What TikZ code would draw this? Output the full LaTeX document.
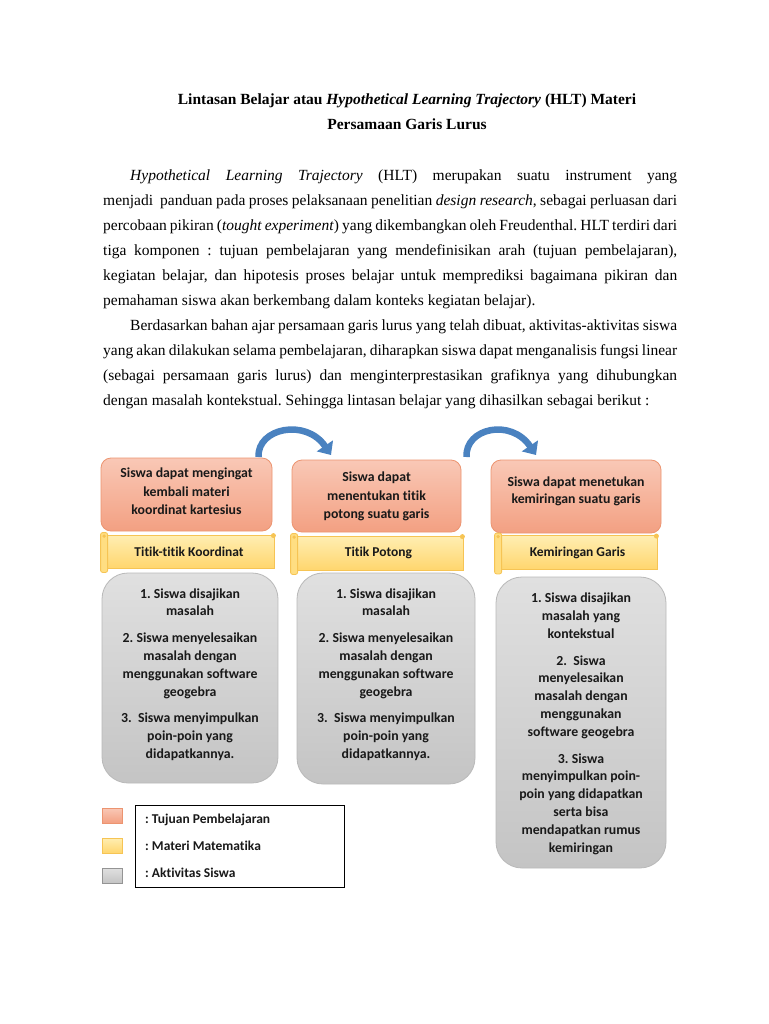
\documentclass[tikz,border=0pt]{standalone}
\usepackage{fontspec}
\setmainfont{Liberation Serif}
\newfontfamily\carl[Ligatures={NoCommon,NoRequired,NoContextual}]{Carlito}
\usetikzlibrary{arrows.meta}
\frenchspacing
\definecolor{otop}{RGB}{249,200,182}
\definecolor{obot}{RGB}{243,160,130}
\definecolor{oline}{RGB}{236,148,112}
\definecolor{ytop}{RGB}{255,238,178}
\definecolor{ybot}{RGB}{255,214,110}
\definecolor{yline}{RGB}{246,196,84}
\definecolor{yroll}{RGB}{255,222,130}
\definecolor{gtop}{RGB}{224,224,224}
\definecolor{gbot}{RGB}{196,196,196}
\definecolor{gline}{RGB}{185,185,185}
\definecolor{ablue}{RGB}{74,130,192}
\definecolor{boxtext}{RGB}{25,25,25}
\begin{document}
\begin{tikzpicture}[x=1pt,y=-1pt,
  obox/.style={draw=oline, line width=0.8pt, rounded corners=10pt, top color=otop, bottom color=obot, inner sep=0},
  ybox/.style={draw=yline, line width=0.8pt, top color=ytop, bottom color=ybot, inner sep=0, font=\carl\bfseries\fontsize{13.5}{16}\selectfont, text=boxtext},
  yroll/.style={draw=yline, line width=0.8pt, fill=yroll, rounded corners=2pt},
  gbox/.style={draw=gline, line width=0.8pt, rounded corners=26pt, top color=gtop, bottom color=gbot, inner sep=0},
  otext/.style={anchor=north, inner sep=0, align=center, text=boxtext, font=\carl\bfseries\fontsize{13.8}{18.5}\selectfont},
  gtext/.style={anchor=north, inner sep=0, align=center, text=boxtext, font=\carl\bfseries\fontsize{13.8}{17.8}\selectfont},
  ltext/.style={anchor=base west, inner sep=0, text=boxtext, font=\carl\bfseries\fontsize{13.5}{16}\selectfont},
  lsq/.style={line width=0.8pt, minimum width=20pt, minimum height=15pt, inner sep=0},
  barrow/.style={draw=ablue, line width=6.5pt, -{Triangle[width=19pt,length=11pt]}},
]
\fill[white] (0,0) rectangle (768,1024);
\useasboundingbox (0,0) rectangle (768,1024);

% title and text
\node[anchor=north, inner sep=0, align=center, font=\bfseries\fontsize{15.5}{25}\selectfont] (title) at (407,86.5)
{\strut Lintasan Belajar atau \textit{Hypothetical Learning Trajectory} (HLT) Materi\\Persamaan Garis Lurus};

\node[anchor=north west, inner sep=0, align=left, font=\fontsize{15.5}{25}\selectfont] (body) at (103,162.5) {%
\strut\hspace*{27pt}\makebox[547pt][s]{\textit{Hypothetical Learning Trajectory} (HLT) merupakan suatu instrument yang}\\
\makebox[574pt][s]{menjadi\ \ panduan pada proses pelaksanaan penelitian \textit{design research}, sebagai perluasan dari}\\
\makebox[574pt][s]{percobaan pikiran (\textit{tought experiment}) yang dikembangkan oleh Freudenthal. HLT terdiri dari}\\
\makebox[574pt][s]{tiga komponen : tujuan pembelajaran yang mendefinisikan arah (tujuan pembelajaran),}\\
\makebox[574pt][s]{kegiatan belajar, dan hipotesis proses belajar untuk memprediksi bagaimana pikiran dan}\\
pemahaman siswa akan berkembang dalam konteks kegiatan belajar).\\
\hspace*{27pt}\makebox[547pt][s]{Berdasarkan bahan ajar persamaan garis lurus yang telah dibuat, aktivitas-aktivitas siswa}\\
\makebox[574pt][s]{yang akan dilakukan selama pembelajaran, diharapkan siswa dapat menganalisis fungsi linear}\\
\makebox[574pt][s]{(sebagai persamaan garis lurus) dan menginterprestasikan grafiknya yang dihubungkan}\\
dengan masalah kontekstual. Sehingga lintasan belajar yang dihasilkan sebagai berikut :};

% orange goal boxes
\node[obox, minimum width=171pt, minimum height=73pt] (o1) at (186.5,494.5) {};
\node[obox, minimum width=169pt, minimum height=72pt] (o2) at (376.5,496) {};
\node[obox, minimum width=170pt, minimum height=73pt] (o3) at (576,496.5) {};
\node[otext] (ot1) at (186.5,464.5) {\strut Siswa dapat mengingat\\kembali materi\\koordinat kartesius};
\node[otext] (ot2) at (376.5,468.5) {\strut Siswa dapat\\menentukan titik\\potong suatu garis};
\node[otext, font=\carl\bfseries\fontsize{13.8}{17}\selectfont] (ot3) at (576,474.5) {\strut Siswa dapat menetukan\\kemiringan suatu garis};

% curved arrows
\coordinate (a1s) at (258.5,457);
\coordinate (a1e) at (331,455);
\coordinate (a2s) at (466.5,457);
\coordinate (a2e) at (536,455);
\draw[barrow] (a1s) .. controls (257,428) and (306,418) .. (a1e);
\draw[barrow] (a2s) .. controls (465,428) and (511,418) .. (a2e);

% yellow scrolls
\node[ybox, minimum width=170pt, minimum height=33pt] (s1) at (189,551.5) {Titik-titik Koordinat};
\node[ybox, minimum width=169pt, minimum height=34pt] (s2) at (378.5,553) {Titik Potong};
\node[ybox, minimum width=159pt, minimum height=34pt] (s3) at (577.5,552.5) {Kemiringan Garis};
\foreach \s in {s1,s2,s3} {
  \draw[yroll] ([xshift=-3pt,yshift=2pt]\s.north west) rectangle ([xshift=4pt,yshift=-4pt]\s.south west);
  \fill[yline] ([xshift=-1pt,yshift=-1pt]\s.north east) circle (2.5pt);
  \fill[yline] ([xshift=0.5pt,yshift=-1.5pt]\s.north west) circle (1.8pt);
}

% gray activity boxes
\node[gbox, minimum width=176pt, minimum height=210pt] (g1) at (190,678) {};
\node[gbox, minimum width=178pt, minimum height=211pt] (g2) at (386,678.5) {};
\node[gbox, minimum width=170pt, minimum height=291pt] (g3) at (581,722.5) {};
\node[gtext] (gt1) at (190,585.5) {\strut 1. Siswa disajikan\\masalah\\[9pt]2. Siswa menyelesaikan\\masalah dengan\\menggunakan software\\geogebra\\[9pt]3.\ \ Siswa menyimpulkan\\poin-poin yang\\didapatkannya.};
\node[gtext] (gt2) at (386,585.5) {\strut 1. Siswa disajikan\\masalah\\[9pt]2. Siswa menyelesaikan\\masalah dengan\\menggunakan software\\geogebra\\[9pt]3.\ \ Siswa menyimpulkan\\poin-poin yang\\didapatkannya.};
\node[gtext] (gt3) at (581,590) {\strut 1. Siswa disajikan\\masalah yang\\kontekstual\\[9pt]2.\ \ Siswa\\menyelesaikan\\masalah dengan\\menggunakan\\software geogebra\\[9pt]3. Siswa\\menyimpulkan poin-\\poin yang didapatkan\\serta bisa\\mendapatkan rumus\\kemiringan};

% legend
\node[lsq, draw=oline, top color=otop, bottom color=obot] (k1) at (112,815.5) {};
\node[lsq, draw=yline, top color=ytop, bottom color=ybot] (k2) at (112,845.5) {};
\node[lsq, draw=gline!80!black, top color=gtop, bottom color=gbot] (k3) at (112,875.5) {};
\node[draw=black, line width=0.9pt, minimum width=209pt, minimum height=82pt, inner sep=0] (lg) at (239.5,846) {};
\node[ltext] (l1) at (145,823.5) {: Tujuan Pembelajaran};
\node[ltext] (l2) at (145,850.5) {: Materi Matematika};
\node[ltext] (l3) at (145,877.5) {: Aktivitas Siswa};
\end{tikzpicture}
\end{document}
